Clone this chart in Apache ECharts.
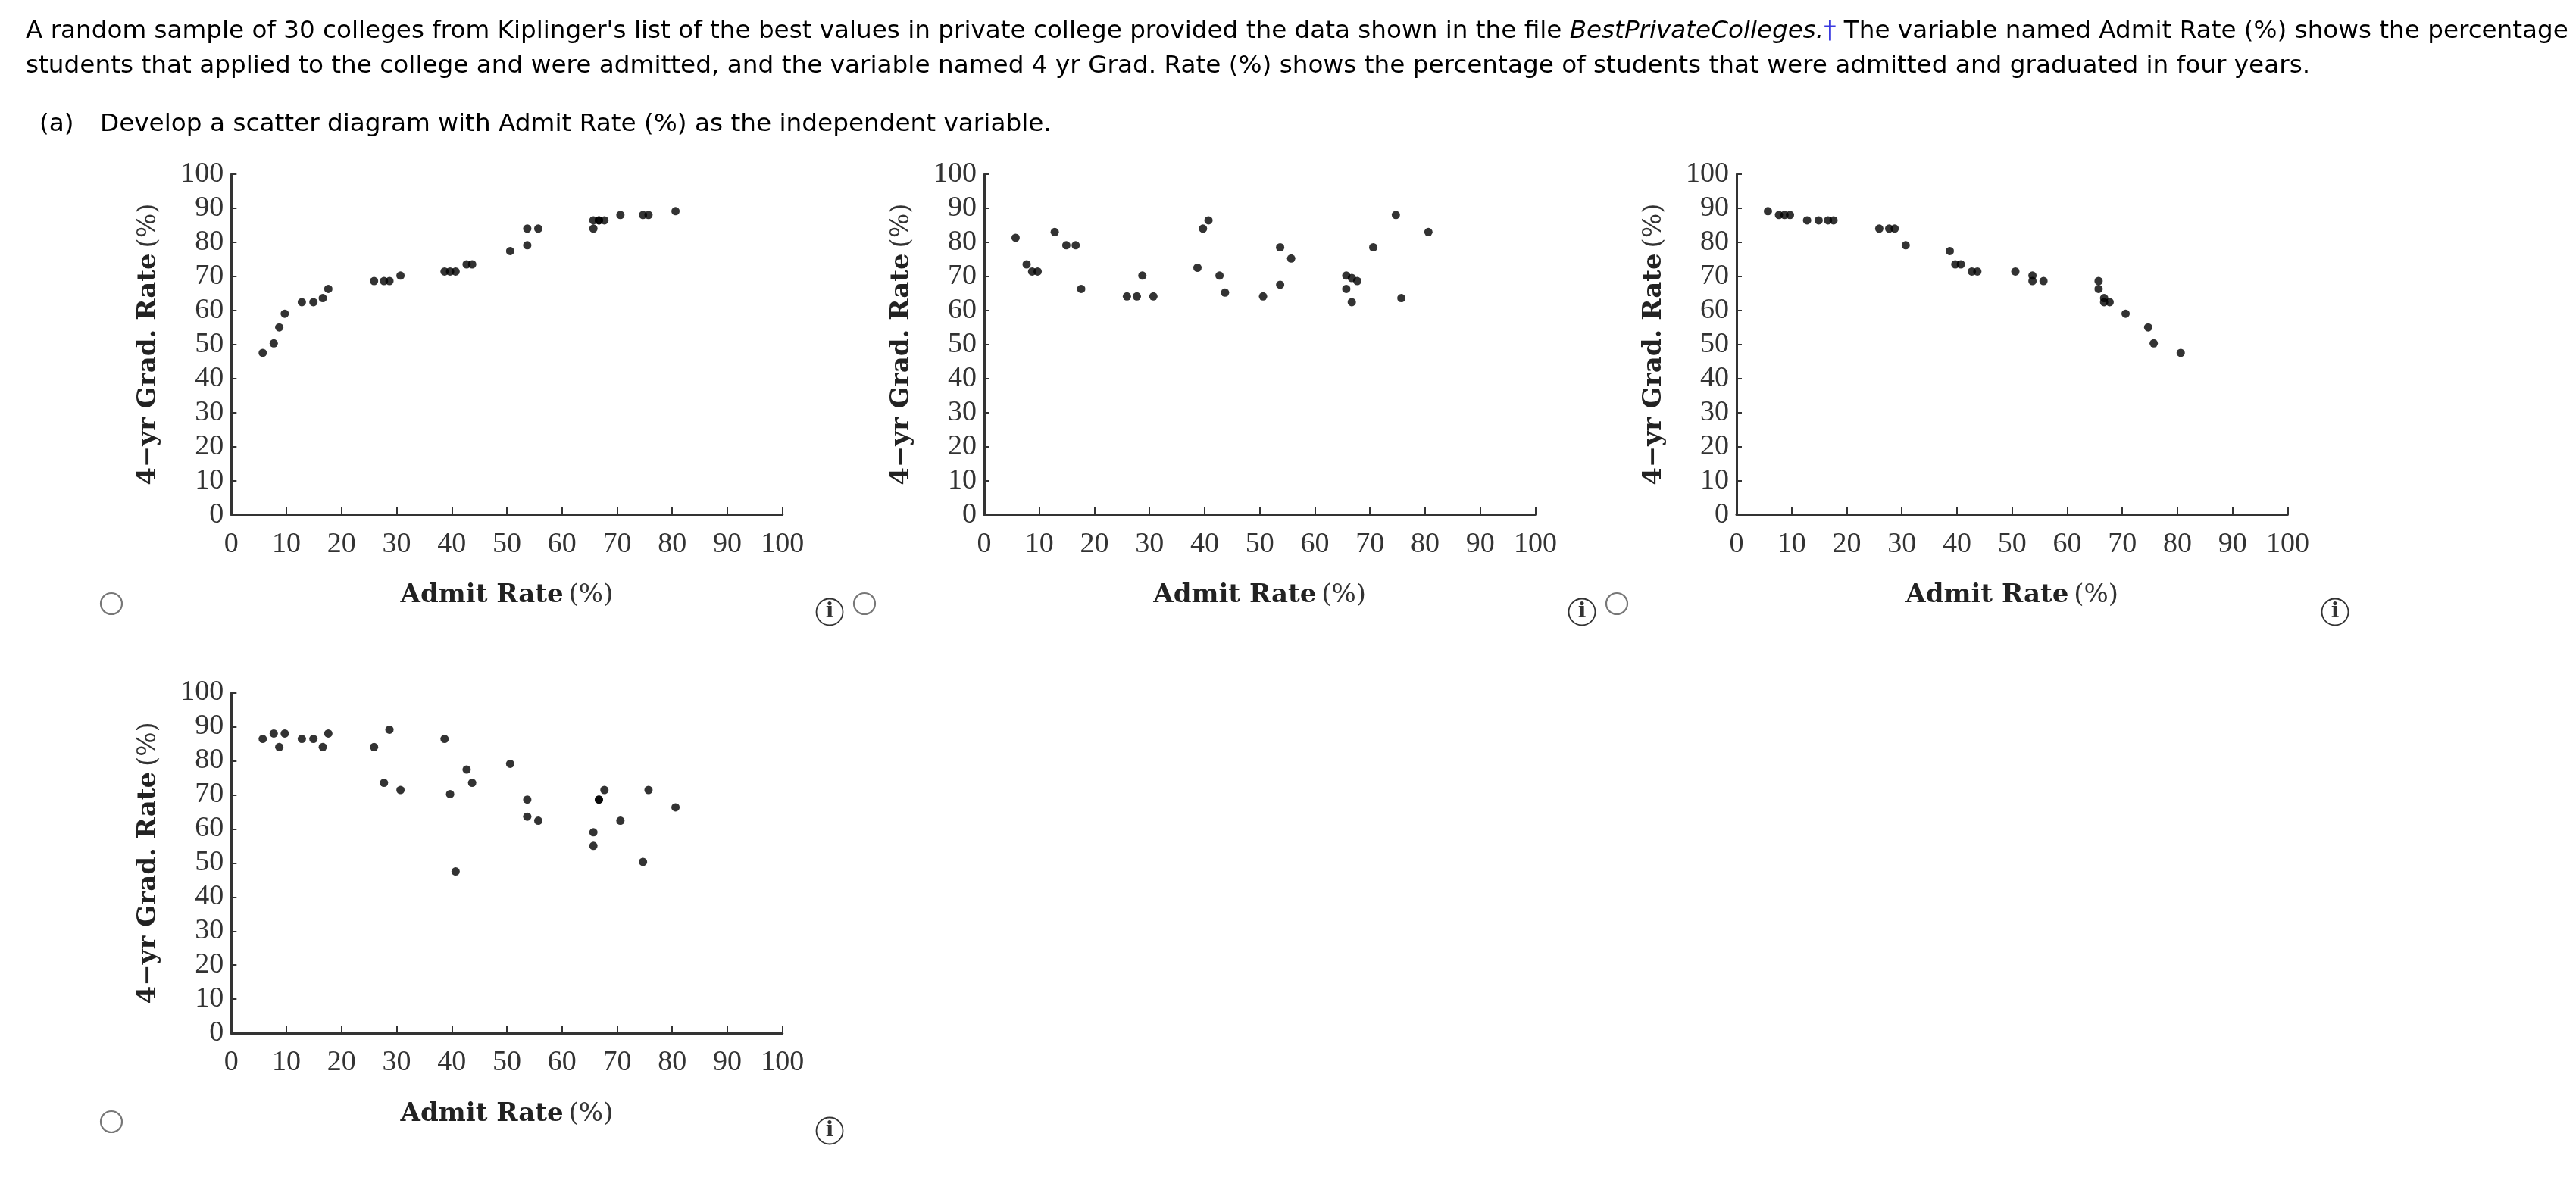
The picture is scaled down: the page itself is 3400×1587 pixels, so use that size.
<!DOCTYPE html>
<html><head><meta charset="utf-8">
<style>html,body{margin:0;padding:0;background:#fff}#c{width:3400px;height:1587px}</style>
<script src="https://cdn.jsdelivr.net/npm/echarts@6/dist/echarts.min.js"></script>
</head><body><div id="c"></div>
<script>
const admitRate = [5.7,7.7,8.7,9.7,12.8,14.9,16.6,17.6,25.9,27.7,28.7,30.7,38.7,39.7,40.7,42.7,43.7,50.6,53.7,53.7,55.7,65.7,65.7,66.7,66.7,67.7,70.6,74.7,75.7,80.6];
const gradA = [47.5,50.3,55,59,62.4,62.4,63.6,66.3,68.6,68.6,68.6,70.2,71.4,71.4,71.4,73.5,73.5,77.4,79.1,84,84,84,86.4,86.4,86.4,86.4,88,88,88,89.1];
const gradB = [81.3,73.5,71.4,71.4,83,79.1,79.1,66.3,64.1,64.1,70.2,64.1,72.5,84,86.4,70.2,65.2,64.1,78.5,67.5,75.2,70.2,66.3,62.4,69.5,68.6,78.5,88,63.6,83];
const gradC = [89.1,88,88,88,86.4,86.4,86.4,86.4,84,84,84,79.1,77.4,73.5,73.5,71.4,71.4,71.4,70.2,68.6,68.6,68.6,66.3,63.6,62.4,62.4,59,55,50.3,47.5];
const gradD = [86.4,88,84,88,86.4,86.4,84,88,84,73.5,89.1,71.4,86.4,70.2,47.5,77.4,73.5,79.1,68.6,63.6,62.4,59,55,68.6,68.6,71.4,62.4,50.3,71.4,66.3];
const panels = [
  {grad:gradA,left:305.3,top:229.8,radio:[147,797],info:[1095,808]},
  {grad:gradB,left:1299,top:229.8,radio:[1141,797],info:[2088,808]},
  {grad:gradC,left:2292,top:229.8,radio:[2134,797],info:[3082,808]},
  {grad:gradD,left:305.3,top:914.4,radio:[147,1481],info:[1095,1493]}
];
const xTitle = '{b|Admit Rate}{s| }{n|(%)}';
const yTitle = '{b|4\u2212yr Grad. Rate}{s| }{n|(%)}';
const line1a = 'A random sample of 30 colleges from Kiplinger\'s list of the best values in private college provided the data shown in the file ';
const line1b = 'BestPrivateColleges.';
const line1c = ' The variable named Admit Rate (%) shows the percentage of';
const line2 = 'students that applied to the college and were admitted, and the variable named 4 yr Grad. Rate (%) shows the percentage of students that were admitted and graduated in four years.';
const partA = '(a)';
const partAText = 'Develop a scatter diagram with Admit Rate (%) as the independent variable.';

const serif = '"Liberation Serif"';
const inkAxis = '#333';
const grids=[],xs=[],ys=[],series=[],gfx=[];
panels.forEach((p,i)=>{
  grids.push({left:p.left,top:p.top,width:727.4,height:449.8,containLabel:false});
  const rich = {
    b:{fontFamily:'"DejaVu Serif"',fontWeight:'bold',fontSize:34,color:'#222'},
    s:{fontFamily:'"DejaVu Serif"',fontSize:22,color:'#333'},
    n:{fontFamily:'"DejaVu Serif"',fontSize:34,color:'#333'}
  };
  const ax = (len,extra)=>Object.assign({
    type:'value',min:0,max:100,interval:10,gridIndex:i,
    splitLine:{show:false},
    axisLine:{onZero:false,lineStyle:{color:inkAxis,width:3}},
    axisTick:{inside:true,length:len,lineStyle:{color:inkAxis,width:2}},
    axisLabel:{fontFamily:serif,fontSize:38,color:'#333',margin:10,padding:[4,0,0,0]},
    nameLocation:'middle',
    nameTextStyle:{rich}
  },extra);
  xs.push(ax(10,{name:xTitle,nameGap:90,axisLabel:{fontFamily:serif,fontSize:38,color:'#333',margin:20}}));
  ys.push(ax(7,{name:yTitle,nameGap:92}));
  series.push({type:'scatter',xAxisIndex:i,yAxisIndex:i,symbol:'circle',symbolSize:11,
    itemStyle:{color:'#000'},silent:true,animation:false,
    data:admitRate.map((x,j)=>[x,p.grad[j]])});
  gfx.push({type:'circle',shape:{cx:p.radio[0],cy:p.radio[1],r:14},style:{fill:'#fff',stroke:'#777',lineWidth:2.2}});
  gfx.push({type:'circle',shape:{cx:p.info[0],cy:p.info[1],r:17.5},style:{fill:'#fff',stroke:'#333',lineWidth:1.8}});
  gfx.push({type:'text',x:p.info[0],y:p.info[1],style:{text:'i',fontFamily:'"DejaVu Serif"',fontWeight:'bold',fontSize:28,fill:'#333',align:'center',verticalAlign:'middle'}});
});
const sans='"DejaVu Sans"';
const fs=32.7, fs1=32.62;
gfx.push({type:'text',x:34,y:42,style:{
  rich:{t:{fontFamily:sans,fontSize:fs1,fill:'#000'},it:{fontFamily:sans,fontStyle:'italic',fontSize:fs1,fill:'#000'},d:{fontFamily:sans,fontSize:fs1,fill:'#3a3ae0'}},
  text:'{t|'+line1a+'}{it|'+line1b+'}{d|\u2020}{t|'+line1c+'}',verticalAlign:'middle'}});
gfx.push({type:'text',x:34,y:88,style:{text:line2,fontFamily:sans,fontSize:fs,fill:'#000',verticalAlign:'middle'}});
gfx.push({type:'text',x:52,y:165,style:{text:partA,fontFamily:sans,fontSize:fs,fill:'#000',verticalAlign:'middle'}});
gfx.push({type:'text',x:132,y:165,style:{text:partAText,fontFamily:sans,fontSize:fs,fill:'#000',verticalAlign:'middle'}});
const chart=echarts.init(document.getElementById('c'),null,{renderer:'canvas'});
chart.setOption({animation:false,backgroundColor:'#fff',grid:grids,xAxis:xs,yAxis:ys,series,graphic:gfx});
</script></body></html>
